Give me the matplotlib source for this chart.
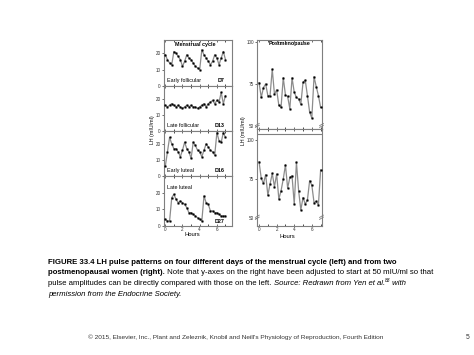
import matplotlib.pyplot as plt
from matplotlib.ticker import MultipleLocator

plt.rcParams['font.family'] = ['Liberation Sans', 'DejaVu Sans']

# sampling times (hours), one sample every 15 min
hours = [0, 0.25, 0.5, 0.75, 1, 1.25, 1.5, 1.75, 2, 2.25, 2.5, 2.75, 3, 3.25, 3.5,
         3.75, 4, 4.25, 4.5, 4.75, 5, 5.25, 5.5, 5.75, 6, 6.25, 6.5, 6.75, 7]

# LH (mIU/ml), menstrual cycle days
d7 = [19, 16, 14, 13, 21, 20, 18, 16, 12, 15, 19, 17, 16, 14, 12, 11, 10, 22, 19,
      17, 15, 13, 15, 19, 17, 13, 17, 21, 16]
d13 = [16, 15, 16, 17, 16, 15, 16, 15, 14, 15, 16, 15, 16, 15, 15, 14, 15, 16, 17,
       15, 17, 18, 19, 17, 19, 18, 24, 17, 22]
d16 = [6, 15, 24, 20, 17, 17, 15, 12, 16, 21, 17, 15, 11, 21, 19, 16, 15, 12, 16,
       20, 18, 16, 15, 13, 27, 22, 21, 27, 24]
d27 = [4, 3, 3, 17, 19, 16, 14, 15, 14, 13, 11, 8, 8, 7, 6, 5, 4, 3, 18, 14, 13,
       9, 9, 8, 8, 7, 6, 6, 6]

# LH (mIU/ml), two postmenopausal women
pm1 = [75.7, 66.9, 72.8, 74.9, 68, 68, 83.7, 68.8, 71.4, 62.2, 61, 78.6, 68.4, 67.5,
       60.2, 78.6, 70, 66.9, 66, 62.9, 75.9, 77.2, 68, 58.2, 54.7, 79.2, 73.4, 68, 61]
pm2 = [86, 75.4, 72.2, 77.8, 64.7, 71.8, 78.6, 70.1, 78.2, 62.2, 67.5, 75, 84, 69.2,
       76, 77.1, 59, 85.7, 67.5, 55.3, 63.2, 59, 61.7, 73.9, 71.1, 60, 60.7, 58.5, 80.8]

left_series = [d7, d13, d16, d27]
left_names = ["Early follicular", "Late follicular", "Early luteal", "Late luteal"]
left_days = ["D7", "D13", "D16", "D27"]

W, H = 474, 355
fig = plt.figure(figsize=(W / 100, H / 100), dpi=100)
fig.patch.set_facecolor("white")

SPINE = "#7f7f7f"
LINE = "#8c8c8c"
TK = 3.3


def px_axes(x0, y0, x1, y1):
    # pixel box (top-left origin) -> figure axes
    return fig.add_axes([x0 / W, 1 - y1 / H, (x1 - x0) / W, (y1 - y0) / H])


def style(ax, bottom_labels):
    for s in ax.spines.values():
        s.set_color(SPINE)
        s.set_linewidth(0.8)
    ax.tick_params(colors="#333333", labelsize=TK, length=1.5, width=0.5, pad=1)
    ax.tick_params(axis="x", which="both", top=True, direction="in")
    ax.xaxis.set_major_locator(MultipleLocator(2))
    ax.xaxis.set_minor_locator(MultipleLocator(1))
    ax.tick_params(axis="x", which="minor", length=1.2, width=0.5)
    if not bottom_labels:
        ax.tick_params(axis="x", labelbottom=False)


def plot_series(ax, y):
    ax.plot(hours, y, color=LINE, lw=0.9, marker="s", ms=1.1,
            mec="black", mfc="black", mew=0.3, zorder=3)


# left column
boxes = [(164, 40, 231.5, 86), (164, 86, 231.5, 131),
         (164, 131, 231.5, 176), (164, 176, 231.5, 226)]
for i, (vals, name, day, box) in enumerate(zip(left_series, left_names, left_days, boxes)):
    ax = px_axes(*box)
    plot_series(ax, vals)
    ax.set_xlim(-0.15, 7.7)
    ax.set_ylim(0, 28 if i < 3 else 30)
    ax.set_yticks([0, 10, 20])
    style(ax, i == 3)
    if i == 0:
        ax.text(0.47, 0.96, "Menstrual cycle", transform=ax.transAxes, ha="center",
                va="top", fontsize=3.9, fontweight="bold")
    if i < 3:
        ax.text(0.04, 0.12, name, transform=ax.transAxes, ha="left", va="center",
                fontsize=3.9)
    else:
        ax.text(0.04, 0.77, name, transform=ax.transAxes, ha="left", va="center",
                fontsize=3.9)
    ax.text(0.9, 0.12 if i < 3 else 0.09, day, transform=ax.transAxes, ha="right",
            va="center", fontsize=3.9, fontweight="bold")

# right column
axr1 = px_axes(257.3, 40, 321.5, 129)
plot_series(axr1, pm1)
axr1.set_xlim(-0.2, 7.1)
axr1.set_ylim(48.2, 101)
axr1.set_yticks([50, 75, 100])
style(axr1, False)
axr1.text(0.5, 0.985, "Postmenopause", transform=axr1.transAxes, ha="center",
          va="top", fontsize=3.9, fontweight="bold")

axr2 = px_axes(257.3, 129, 321.5, 226)
plot_series(axr2, pm2)
axr2.set_xlim(-0.2, 7.1)
axr2.set_ylim(45, 107)
axr2.set_yticks([50, 75, 100])
style(axr2, True)
axr2.axhline(104, color=SPINE, lw=0.8)

# axis breaks near 50
for ax, yb in ((axr1, 0.03), (axr2, 0.08)):
    for xb in (0, 1):
        ax.plot([xb - 0.03, xb + 0.03], [yb - 0.012, yb + 0.012], transform=ax.transAxes,
                color=SPINE, lw=0.6, clip_on=False)
        ax.plot([xb - 0.03, xb + 0.03], [yb + 0.008, yb + 0.032], transform=ax.transAxes,
                color=SPINE, lw=0.6, clip_on=False)

# axis titles
fig.text(152.5 / W, 1 - 130 / H, "LH (mIU/ml)", rotation=90, ha="center", va="center",
         fontsize=3.8)
fig.text(243.5 / W, 1 - 131 / H, "LH (mIU/ml)", rotation=90, ha="center", va="center",
         fontsize=3.8)
fig.text(192 / W, 1 - 235 / H, "Hours", ha="center", va="center", fontsize=4.2)
fig.text(287 / W, 1 - 237 / H, "Hours", ha="center", va="center", fontsize=4.2)

# caption, mixed styles on one line
CAP = 5.6
cap_lines = [
    [("FIGURE 33.4 LH pulse patterns on four different days of the menstrual cycle (left) and from two",
      dict(fontweight="bold"))],
    [("postmenopausal women (right).", dict(fontweight="bold")),
     (" Note that y-axes on the right have been adjusted to start at 50 mIU/ml so that", {})],
    [("pulse amplitudes can be directly compared with those on the left. ", {}),
     ("Source: Redrawn from Yen et al.", dict(style="italic")),
     ("88", dict(style="italic", fontsize=3.5)),
     (" with", dict(style="italic"))],
    [("permission from the Endocrine Society.", dict(style="italic"))],
]

renderer = fig.canvas.get_renderer()
cap_y = [264, 274.5, 285, 295.5]
for ly, parts in zip(cap_y, cap_lines):
    x = 48
    for txt, kw in parts:
        kw = dict(kw)
        fs = kw.pop("fontsize", CAP)
        yoff = -2.5 if fs < CAP else 0
        t = fig.text(x / W, 1 - (ly + yoff) / H, txt, ha="left", va="baseline",
                     fontsize=fs, **kw)
        bb = t.get_window_extent(renderer)
        x += bb.width

fig.text(88 / W, 1 - 339 / H,
         "\u00a9 2015, Elsevier, Inc., Plant and Zeleznik, Knobil and Neill's Physiology of Reproduction, Fourth Edition",
         ha="left", va="baseline", fontsize=4.65, color="#333333")
fig.text(466 / W, 1 - 339 / H, "5", ha="left", va="baseline", fontsize=4.8, color="#333333")

fig.savefig("out.png", dpi=100, facecolor="white")
